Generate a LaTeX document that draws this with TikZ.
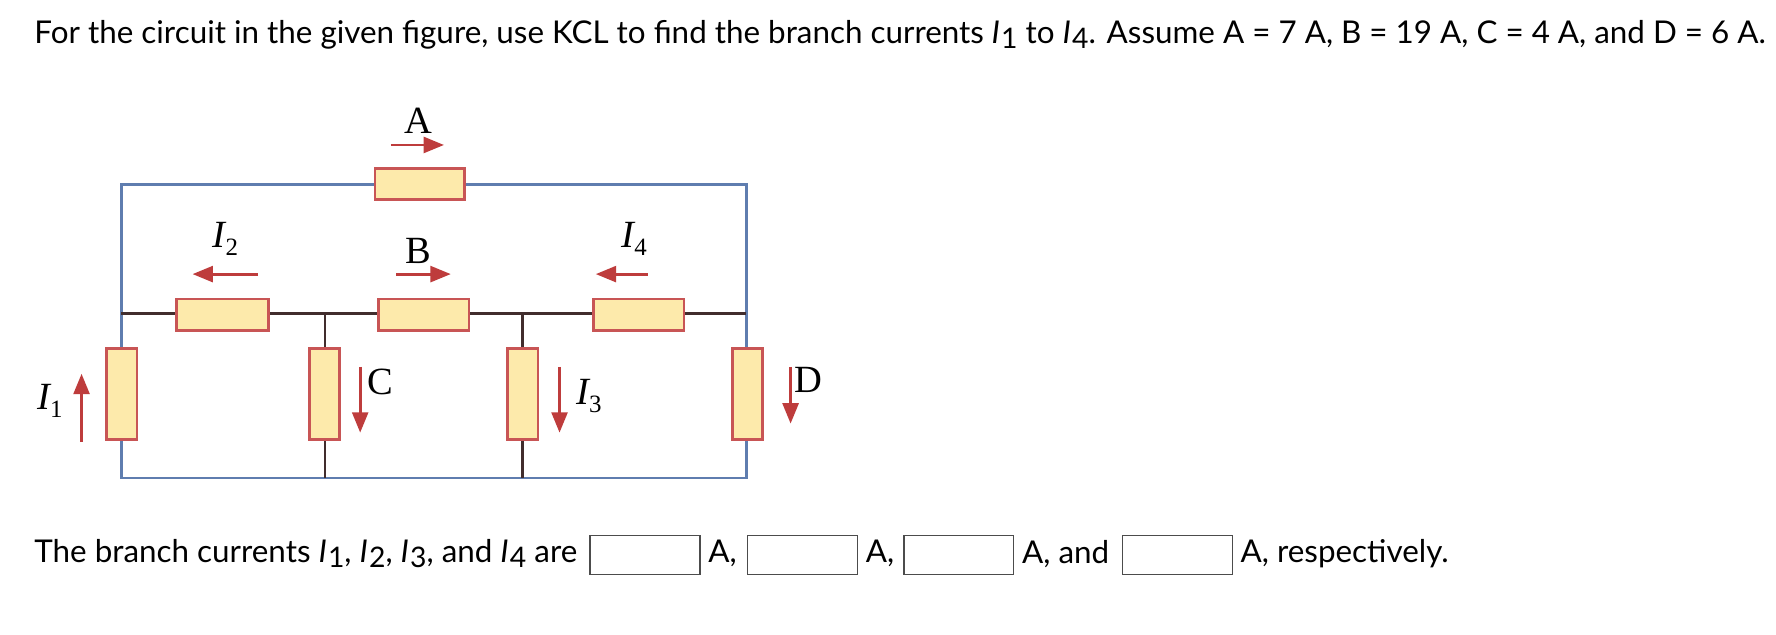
\documentclass[tikz,border=0pt]{standalone}
\usepackage{fontspec}
\setmainfont{Lato}
\newfontfamily\serifc{Liberation Serif}
\usetikzlibrary{arrows.meta}
\definecolor{wblue}{RGB}{95,125,175}
\definecolor{wdark}{RGB}{65,45,45}
\definecolor{rfill}{RGB}{253,234,171}
\definecolor{rdraw}{RGB}{200,85,85}
\definecolor{acol}{RGB}{190,60,60}
\newcommand{\Ical}[1]{\textit{I}\kern0.5pt\raisebox{-0.3ex}{\fontsize{12.5}{12.5}\selectfont #1}}
\newcommand{\sbs}[1]{\raisebox{-0.45ex}{\fontsize{11}{11}\selectfont\upshape #1}}
\begin{document}
\begin{tikzpicture}[x=0.5pt,y=-0.5pt,
  res/.style={draw=rdraw,fill=rfill,line width=1.2pt},
  bw/.style={draw=wblue,line width=1.2pt},
  dw/.style={draw=wdark,line width=1.2pt},
  cur/.style={draw=acol,line width=1.3pt,-{Triangle[length=9pt,width=7pt]}},
  lab/.style={font=\serifc\fontsize{17}{17}\selectfont,text=black},
  ilab/.style={font=\serifc\itshape\fontsize{17}{17}\selectfont,text=black},
  txt/.style={font=\fontsize{13.85}{15}\selectfont,anchor=west,inner sep=0pt},
  ansbox/.style={draw=black!70,line width=0.6pt,minimum width=48.5pt,minimum height=17pt,inner sep=0pt}]
\useasboundingbox (0,0) rectangle (1568,560);
\fill[white] (0,0) rectangle (1568,560);
\node[txt] (q) at (30,31) {For the circuit in the given figure, use KCL to find the branch currents \Ical{1} to \Ical{4}. Assume A = 7 A, B = 19 A, C = 4 A, and D = 6 A.};
% wires
\coordinate (tl) at (107,163); \coordinate (tr) at (659,163);
\coordinate (ml) at (107,277); \coordinate (mr) at (659,277);
\coordinate (bl) at (107,422); \coordinate (br) at (659,422);
\coordinate (j1) at (287,277); \coordinate (j2) at (461,277);
\coordinate (b1) at (287,422); \coordinate (b2) at (461,422);
\draw[bw] (ml) -- (tl) -- (tr) -- (mr);
\draw[bw] (ml) -- (bl) -- (br) -- (mr);
\draw[dw] (ml) -- (mr);
\draw[dw] (j1) -- (b1); \draw[dw] (j2) -- (b2);
% resistors
\draw[res] (331,149) rectangle (410,176);
\draw[res] (156,264) rectangle (237,292);
\draw[res] (334,264) rectangle (414,292);
\draw[res] (524,264) rectangle (604,292);
\draw[res] (94,308) rectangle (121,388);
\draw[res] (273,308) rectangle (300,388);
\draw[res] (448,308) rectangle (475,388);
\draw[res] (647,308) rectangle (673,388);
% currents
\coordinate (aA1) at (345,128); \coordinate (aA2) at (392,128);
\draw[cur] (aA1) -- (aA2); \node[lab] (lA) at (369,107) {A};
\coordinate (a21) at (228,242); \coordinate (a22) at (170,242);
\draw[cur] (a21) -- (a22); \node[ilab] (l2) at (199,211) {I\sbs{2}};
\coordinate (aB1) at (350,242); \coordinate (aB2) at (398,242);
\draw[cur] (aB1) -- (aB2); \node[lab] (lB) at (369,222) {B};
\coordinate (a41) at (572,242); \coordinate (a42) at (526,242);
\draw[cur] (a41) -- (a42); \node[ilab] (l4) at (560,211) {I\sbs{4}};
\coordinate (a11) at (72,390); \coordinate (a12) at (72,330);
\draw[cur] (a11) -- (a12); \node[ilab] (l1) at (44,354) {I\sbs{1}};
\coordinate (aC1) at (318,324); \coordinate (aC2) at (318,382);
\draw[cur] (aC1) -- (aC2); \node[lab] (lC) at (336,337) {C};
\coordinate (a31) at (494,324); \coordinate (a32) at (494,382);
\draw[cur] (a31) -- (a32); \node[ilab] (l3) at (520,350) {I\sbs{3}};
\coordinate (aD1) at (698,324); \coordinate (aD2) at (698,374);
\draw[cur] (aD1) -- (aD2); \node[lab] (lD) at (714,335) {D};
% answer line
\node[txt] (t1) at (30,489) {The branch currents \Ical{1}, \Ical{2}, \Ical{3}, and \Ical{4} are};
\node[ansbox] (x1) at (569.5,490) {};
\node[txt] (t2) at (625,489) {A,};
\node[ansbox] (x2) at (708.5,490) {};
\node[txt] (t3) at (764,489) {A,};
\node[ansbox] (x3) at (846.5,490) {};
\node[txt] (t4) at (902,489) {A, and};
\node[ansbox] (x4) at (1039.5,490) {};
\node[txt] (t5) at (1095,489) {A, respectively.};
\end{tikzpicture}
\end{document}
